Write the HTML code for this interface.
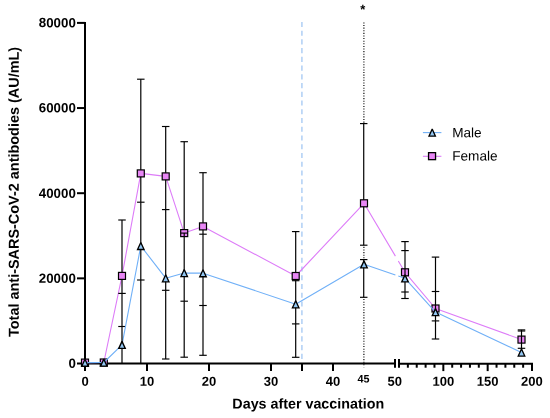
<!DOCTYPE html>
<html lang="en"><head><meta charset="utf-8"><title>Total anti-SARS-CoV-2 antibodies</title>
<style>html,body{margin:0;padding:0;background:#fff}body{width:550px;height:418px;overflow:hidden}svg{display:block}text{font-family:"Liberation Sans",sans-serif;fill:#000}.b{font-weight:bold}</style>
</head><body>
<svg width="550" height="418" viewBox="0 0 550 418">
<rect width="550" height="418" fill="#fff"/>
<line x1="301.9" y1="21.9" x2="301.9" y2="362.5" stroke="#b4d2f5" stroke-width="1.6" stroke-dasharray="5.1 3.635"/>
<line x1="363.9" y1="22.4" x2="363.9" y2="123.6" stroke="#000" stroke-width="1.15" stroke-dasharray="1.05 1.56" stroke-dashoffset="0"/>
<line x1="363.9" y1="245.2" x2="363.9" y2="259.6" stroke="#000" stroke-width="1.15" stroke-dasharray="1.05 1.56" stroke-dashoffset="0.95"/>
<line x1="363.9" y1="297.3" x2="363.9" y2="367.3" stroke="#000" stroke-width="1.15" stroke-dasharray="1.05 1.56" stroke-dashoffset="0.85"/>
<g stroke="#000" stroke-width="2" fill="none">
<line x1="85" y1="21.9" x2="85" y2="364.5"/>
<line x1="84" y1="363.5" x2="395" y2="363.5"/>
<line x1="399" y1="363.7" x2="533" y2="363.7"/>
<line x1="77" y1="363.5" x2="85" y2="363.5"/>
<line x1="77" y1="278.35" x2="85" y2="278.35"/>
<line x1="77" y1="193.2" x2="85" y2="193.2"/>
<line x1="77" y1="108.05" x2="85" y2="108.05"/>
<line x1="77" y1="22.9" x2="85" y2="22.9"/>
<line x1="85" y1="363.5" x2="85" y2="371"/>
<line x1="147" y1="363.5" x2="147" y2="371"/>
<line x1="209" y1="363.5" x2="209" y2="371"/>
<line x1="271" y1="363.5" x2="271" y2="371"/>
<line x1="302" y1="363.5" x2="302" y2="371"/>
<line x1="333" y1="363.5" x2="333" y2="371"/>
<line x1="395" y1="359" x2="395" y2="367.8"/>
<line x1="399" y1="359" x2="399" y2="367.8"/>
<line x1="407.87" y1="363.7" x2="407.87" y2="367.7"/>
<line x1="416.73" y1="363.7" x2="416.73" y2="367.7"/>
<line x1="425.6" y1="363.7" x2="425.6" y2="367.7"/>
<line x1="434.47" y1="363.7" x2="434.47" y2="367.7"/>
<line x1="443.33" y1="363.7" x2="443.33" y2="371.1"/>
<line x1="452.2" y1="363.7" x2="452.2" y2="367.7"/>
<line x1="461.07" y1="363.7" x2="461.07" y2="367.7"/>
<line x1="469.94" y1="363.7" x2="469.94" y2="367.7"/>
<line x1="478.8" y1="363.7" x2="478.8" y2="367.7"/>
<line x1="487.67" y1="363.7" x2="487.67" y2="371.1"/>
<line x1="496.54" y1="363.7" x2="496.54" y2="367.7"/>
<line x1="505.4" y1="363.7" x2="505.4" y2="367.7"/>
<line x1="514.27" y1="363.7" x2="514.27" y2="367.7"/>
<line x1="523.14" y1="363.7" x2="523.14" y2="367.7"/>
<line x1="532" y1="363.7" x2="532" y2="371.1"/>
</g>
<polyline fill="none" stroke="#dd7cf8" stroke-width="1.1" stroke-linejoin="round" points="85,362.6 103.8,362.5 122,275.9 140.8,173.4 165.7,176.4 184.2,233.1 203,226.4 295.7,276 364,203.3 395.4,256.14"/>
<polyline fill="none" stroke="#dd7cf8" stroke-width="1.1" stroke-linejoin="round" points="398.3,261.02 405,272.3 435.5,308.5 521.5,339.6"/>
<line x1="122" y1="220" x2="122" y2="293.4" stroke="#000" stroke-width="1.2"/>
<line x1="118.25" y1="220" x2="125.75" y2="220" stroke="#000" stroke-width="1.15"/>
<line x1="118.25" y1="326.5" x2="125.75" y2="326.5" stroke="#000" stroke-width="1.15"/>
<line x1="140.8" y1="79.2" x2="140.8" y2="202.2" stroke="#000" stroke-width="1.2"/>
<line x1="137.05" y1="79.2" x2="144.55" y2="79.2" stroke="#000" stroke-width="1.15"/>
<line x1="137.05" y1="280" x2="144.55" y2="280" stroke="#000" stroke-width="1.15"/>
<line x1="165.7" y1="126.5" x2="165.7" y2="209.6" stroke="#000" stroke-width="1.2"/>
<line x1="165.7" y1="290.3" x2="165.7" y2="359" stroke="#000" stroke-width="1.2"/>
<line x1="161.95" y1="126.5" x2="169.45" y2="126.5" stroke="#000" stroke-width="1.15"/>
<line x1="161.95" y1="359" x2="169.45" y2="359" stroke="#000" stroke-width="1.15"/>
<line x1="184.2" y1="141.7" x2="184.2" y2="233.1" stroke="#000" stroke-width="1.2"/>
<line x1="184.2" y1="301.2" x2="184.2" y2="357.2" stroke="#000" stroke-width="1.2"/>
<line x1="180.45" y1="141.7" x2="187.95" y2="141.7" stroke="#000" stroke-width="1.15"/>
<line x1="180.45" y1="357.2" x2="187.95" y2="357.2" stroke="#000" stroke-width="1.15"/>
<line x1="203" y1="172.7" x2="203" y2="234.2" stroke="#000" stroke-width="1.2"/>
<line x1="203" y1="305.5" x2="203" y2="355.3" stroke="#000" stroke-width="1.2"/>
<line x1="199.25" y1="172.7" x2="206.75" y2="172.7" stroke="#000" stroke-width="1.15"/>
<line x1="199.25" y1="355.3" x2="206.75" y2="355.3" stroke="#000" stroke-width="1.15"/>
<line x1="295.7" y1="231.6" x2="295.7" y2="280.7" stroke="#000" stroke-width="1.2"/>
<line x1="295.7" y1="323.9" x2="295.7" y2="357.3" stroke="#000" stroke-width="1.2"/>
<line x1="291.95" y1="231.6" x2="299.45" y2="231.6" stroke="#000" stroke-width="1.15"/>
<line x1="291.95" y1="357.3" x2="299.45" y2="357.3" stroke="#000" stroke-width="1.15"/>
<line x1="363.72" y1="123.6" x2="363.72" y2="245.2" stroke="#000" stroke-width="1.2"/>
<line x1="359.97" y1="123.6" x2="367.47" y2="123.6" stroke="#000" stroke-width="1.15"/>
<line x1="359.97" y1="245.2" x2="367.47" y2="245.2" stroke="#000" stroke-width="1.15"/>
<line x1="405" y1="241.6" x2="405" y2="250.6" stroke="#000" stroke-width="1.2"/>
<line x1="405" y1="292" x2="405" y2="298.5" stroke="#000" stroke-width="1.2"/>
<line x1="401.25" y1="241.6" x2="408.75" y2="241.6" stroke="#000" stroke-width="1.15"/>
<line x1="401.25" y1="298.5" x2="408.75" y2="298.5" stroke="#000" stroke-width="1.15"/>
<line x1="435.5" y1="257.1" x2="435.5" y2="291.5" stroke="#000" stroke-width="1.2"/>
<line x1="435.5" y1="320.9" x2="435.5" y2="339" stroke="#000" stroke-width="1.2"/>
<line x1="431.75" y1="257.1" x2="439.25" y2="257.1" stroke="#000" stroke-width="1.15"/>
<line x1="431.75" y1="339" x2="439.25" y2="339" stroke="#000" stroke-width="1.15"/>
<line x1="521.5" y1="329.9" x2="521.5" y2="331" stroke="#000" stroke-width="1.2"/>
<line x1="517.75" y1="329.9" x2="525.25" y2="329.9" stroke="#000" stroke-width="1.15"/>
<line x1="517.75" y1="348.3" x2="525.25" y2="348.3" stroke="#000" stroke-width="1.15"/>
<rect x="81.5" y="359.1" width="7" height="7" fill="#e886f5" stroke="#000" stroke-width="1.2"/>
<rect x="100.3" y="359" width="7" height="7" fill="#e886f5" stroke="#000" stroke-width="1.2"/>
<rect x="118.5" y="272.4" width="7" height="7" fill="#e886f5" stroke="#000" stroke-width="1.2"/>
<rect x="137.3" y="169.9" width="7" height="7" fill="#e886f5" stroke="#000" stroke-width="1.2"/>
<rect x="162.2" y="172.9" width="7" height="7" fill="#e886f5" stroke="#000" stroke-width="1.2"/>
<rect x="180.7" y="229.6" width="7" height="7" fill="#e886f5" stroke="#000" stroke-width="1.2"/>
<rect x="199.5" y="222.9" width="7" height="7" fill="#e886f5" stroke="#000" stroke-width="1.2"/>
<rect x="292.2" y="272.5" width="7" height="7" fill="#e886f5" stroke="#000" stroke-width="1.2"/>
<rect x="360.5" y="199.8" width="7" height="7" fill="#e886f5" stroke="#000" stroke-width="1.2"/>
<rect x="401.5" y="268.8" width="7" height="7" fill="#e886f5" stroke="#000" stroke-width="1.2"/>
<rect x="432" y="305" width="7" height="7" fill="#e886f5" stroke="#000" stroke-width="1.2"/>
<rect x="518" y="336.1" width="7" height="7" fill="#e886f5" stroke="#000" stroke-width="1.2"/>
<polyline fill="none" stroke="#70b0f7" stroke-width="1.1" stroke-linejoin="round" points="85,362.6 103.8,362.5 122,344.8 140.8,245.9 165.7,278.2 184.2,272.95 203,273.15 295.7,304.2 364,264.25 395.4,275.01"/>
<polyline fill="none" stroke="#70b0f7" stroke-width="1.1" stroke-linejoin="round" points="398.3,276 405,278.3 435.5,312.05 521.5,352.45"/>
<line x1="122" y1="293.4" x2="122" y2="363.5" stroke="#000" stroke-width="1.2"/>
<line x1="118.25" y1="293.4" x2="125.75" y2="293.4" stroke="#000" stroke-width="1.15"/>
<line x1="140.8" y1="202.2" x2="140.8" y2="363.5" stroke="#000" stroke-width="1.2"/>
<line x1="137.05" y1="202.2" x2="144.55" y2="202.2" stroke="#000" stroke-width="1.15"/>
<line x1="165.7" y1="209.6" x2="165.7" y2="290.3" stroke="#000" stroke-width="1.2"/>
<line x1="161.95" y1="209.6" x2="169.45" y2="209.6" stroke="#000" stroke-width="1.15"/>
<line x1="161.95" y1="290.3" x2="169.45" y2="290.3" stroke="#000" stroke-width="1.15"/>
<line x1="184.2" y1="233.1" x2="184.2" y2="301.2" stroke="#000" stroke-width="1.2"/>
<line x1="180.45" y1="233.1" x2="187.95" y2="233.1" stroke="#000" stroke-width="1.15"/>
<line x1="180.45" y1="301.2" x2="187.95" y2="301.2" stroke="#000" stroke-width="1.15"/>
<line x1="203" y1="234.2" x2="203" y2="305.5" stroke="#000" stroke-width="1.2"/>
<line x1="199.25" y1="234.2" x2="206.75" y2="234.2" stroke="#000" stroke-width="1.15"/>
<line x1="199.25" y1="305.5" x2="206.75" y2="305.5" stroke="#000" stroke-width="1.15"/>
<line x1="295.7" y1="280.7" x2="295.7" y2="323.9" stroke="#000" stroke-width="1.2"/>
<line x1="291.95" y1="280.7" x2="299.45" y2="280.7" stroke="#000" stroke-width="1.15"/>
<line x1="291.95" y1="323.9" x2="299.45" y2="323.9" stroke="#000" stroke-width="1.15"/>
<line x1="363.72" y1="259.6" x2="363.72" y2="297.3" stroke="#000" stroke-width="1.2"/>
<line x1="359.97" y1="259.6" x2="367.47" y2="259.6" stroke="#000" stroke-width="1.15"/>
<line x1="359.97" y1="297.3" x2="367.47" y2="297.3" stroke="#000" stroke-width="1.15"/>
<line x1="405" y1="250.6" x2="405" y2="292" stroke="#000" stroke-width="1.2"/>
<line x1="401.25" y1="250.6" x2="408.75" y2="250.6" stroke="#000" stroke-width="1.15"/>
<line x1="401.25" y1="292" x2="408.75" y2="292" stroke="#000" stroke-width="1.15"/>
<line x1="435.5" y1="291.5" x2="435.5" y2="320.9" stroke="#000" stroke-width="1.2"/>
<line x1="431.75" y1="291.5" x2="439.25" y2="291.5" stroke="#000" stroke-width="1.15"/>
<line x1="431.75" y1="320.9" x2="439.25" y2="320.9" stroke="#000" stroke-width="1.15"/>
<line x1="521.5" y1="331" x2="521.5" y2="356" stroke="#000" stroke-width="1.2"/>
<line x1="517.75" y1="331" x2="525.25" y2="331" stroke="#000" stroke-width="1.15"/>
<path d="M85 359.2 L88.25 366.2 L81.75 366.2 Z" fill="#93c7f3" stroke="#000" stroke-width="1.35" stroke-linejoin="miter" stroke-miterlimit="2"/>
<path d="M103.8 359.1 L107.05 366.1 L100.55 366.1 Z" fill="#93c7f3" stroke="#000" stroke-width="1.35" stroke-linejoin="miter" stroke-miterlimit="2"/>
<path d="M122 341.4 L125.25 348.4 L118.75 348.4 Z" fill="#93c7f3" stroke="#000" stroke-width="1.35" stroke-linejoin="miter" stroke-miterlimit="2"/>
<path d="M140.8 242.5 L144.05 249.5 L137.55 249.5 Z" fill="#93c7f3" stroke="#000" stroke-width="1.35" stroke-linejoin="miter" stroke-miterlimit="2"/>
<path d="M165.7 274.8 L168.95 281.8 L162.45 281.8 Z" fill="#93c7f3" stroke="#000" stroke-width="1.35" stroke-linejoin="miter" stroke-miterlimit="2"/>
<path d="M184.2 269.55 L187.45 276.55 L180.95 276.55 Z" fill="#93c7f3" stroke="#000" stroke-width="1.35" stroke-linejoin="miter" stroke-miterlimit="2"/>
<path d="M203 269.75 L206.25 276.75 L199.75 276.75 Z" fill="#93c7f3" stroke="#000" stroke-width="1.35" stroke-linejoin="miter" stroke-miterlimit="2"/>
<path d="M295.7 300.8 L298.95 307.8 L292.45 307.8 Z" fill="#93c7f3" stroke="#000" stroke-width="1.35" stroke-linejoin="miter" stroke-miterlimit="2"/>
<path d="M364 260.85 L367.25 267.85 L360.75 267.85 Z" fill="#93c7f3" stroke="#000" stroke-width="1.35" stroke-linejoin="miter" stroke-miterlimit="2"/>
<path d="M405 274.9 L408.25 281.9 L401.75 281.9 Z" fill="#93c7f3" stroke="#000" stroke-width="1.35" stroke-linejoin="miter" stroke-miterlimit="2"/>
<path d="M435.5 308.65 L438.75 315.65 L432.25 315.65 Z" fill="#93c7f3" stroke="#000" stroke-width="1.35" stroke-linejoin="miter" stroke-miterlimit="2"/>
<path d="M521.5 349.05 L524.75 356.05 L518.25 356.05 Z" fill="#93c7f3" stroke="#000" stroke-width="1.35" stroke-linejoin="miter" stroke-miterlimit="2"/>
<text x="75.8" y="367.8" font-size="13.3" class="b" text-anchor="end" transform="rotate(0.03 75.8 367.8)">0</text>
<text x="75.8" y="282.7" font-size="13.3" class="b" text-anchor="end" transform="rotate(0.03 75.8 282.7)">20000</text>
<text x="75.8" y="197.7" font-size="13.3" class="b" text-anchor="end" transform="rotate(0.03 75.8 197.7)">40000</text>
<text x="75.8" y="112.25" font-size="13.3" class="b" text-anchor="end" transform="rotate(0.03 75.8 112.25)">60000</text>
<text x="75.8" y="27.15" font-size="13.3" class="b" text-anchor="end" transform="rotate(0.03 75.8 27.15)">80000</text>
<text x="85" y="385.7" font-size="13" class="b" text-anchor="middle" transform="rotate(0.03 85 385.7)">0</text>
<text x="147" y="385.7" font-size="13" class="b" text-anchor="middle" transform="rotate(0.03 147 385.7)">10</text>
<text x="209" y="385.7" font-size="13" class="b" text-anchor="middle" transform="rotate(0.03 209 385.7)">20</text>
<text x="271" y="385.7" font-size="13" class="b" text-anchor="middle" transform="rotate(0.03 271 385.7)">30</text>
<text x="333" y="385.7" font-size="13" class="b" text-anchor="middle" transform="rotate(0.03 333 385.7)">40</text>
<text x="394.8" y="385.7" font-size="13" class="b" text-anchor="middle" transform="rotate(0.03 394.8 385.7)">50</text>
<text x="443.3" y="385.7" font-size="13" class="b" text-anchor="middle" transform="rotate(0.03 443.3 385.7)">100</text>
<text x="487.7" y="385.7" font-size="13" class="b" text-anchor="middle" transform="rotate(0.03 487.7 385.7)">150</text>
<text x="531.9" y="385.7" font-size="13" class="b" text-anchor="middle" transform="rotate(0.03 531.9 385.7)">200</text>
<text x="363.6" y="382.6" font-size="10.8" class="b" text-anchor="middle" transform="rotate(0.03 363.6 382.6)">45</text>
<text x="362.9" y="13.7" font-size="13" class="b" text-anchor="middle" transform="rotate(0.03 362.9 13.7)">*</text>
<text x="308.25" y="408.45" font-size="14.3" class="b" text-anchor="middle" transform="rotate(0.03 308.25 408.45)">Days after vaccination</text>
<text class="b" font-size="14.45" text-anchor="middle" transform="translate(18.8 191.9) rotate(-89.97)">Total anti-SARS-CoV-2 antibodies (AU/mL)</text>
<line x1="422.9" y1="132.6" x2="441.4" y2="132.6" stroke="#70b0f7" stroke-width="1.1"/>
<path d="M432.2 129.05 L435.4 136.15 L429 136.15 Z" fill="#93c7f3" stroke="#000" stroke-width="1.3" stroke-linejoin="miter" stroke-miterlimit="2"/>
<line x1="422.9" y1="156.3" x2="441.4" y2="156.3" stroke="#dd7cf8" stroke-width="1.1"/>
<rect x="428.55" y="152.65" width="7" height="7" fill="#e886f5" stroke="#000" stroke-width="1.3"/>
<text x="452.2" y="137.3" font-size="13.6" transform="rotate(0.03 452.2 137.3)">Male</text>
<text x="452.2" y="160.6" font-size="13.6" transform="rotate(0.03 452.2 160.6)">Female</text>
</svg></body></html>
